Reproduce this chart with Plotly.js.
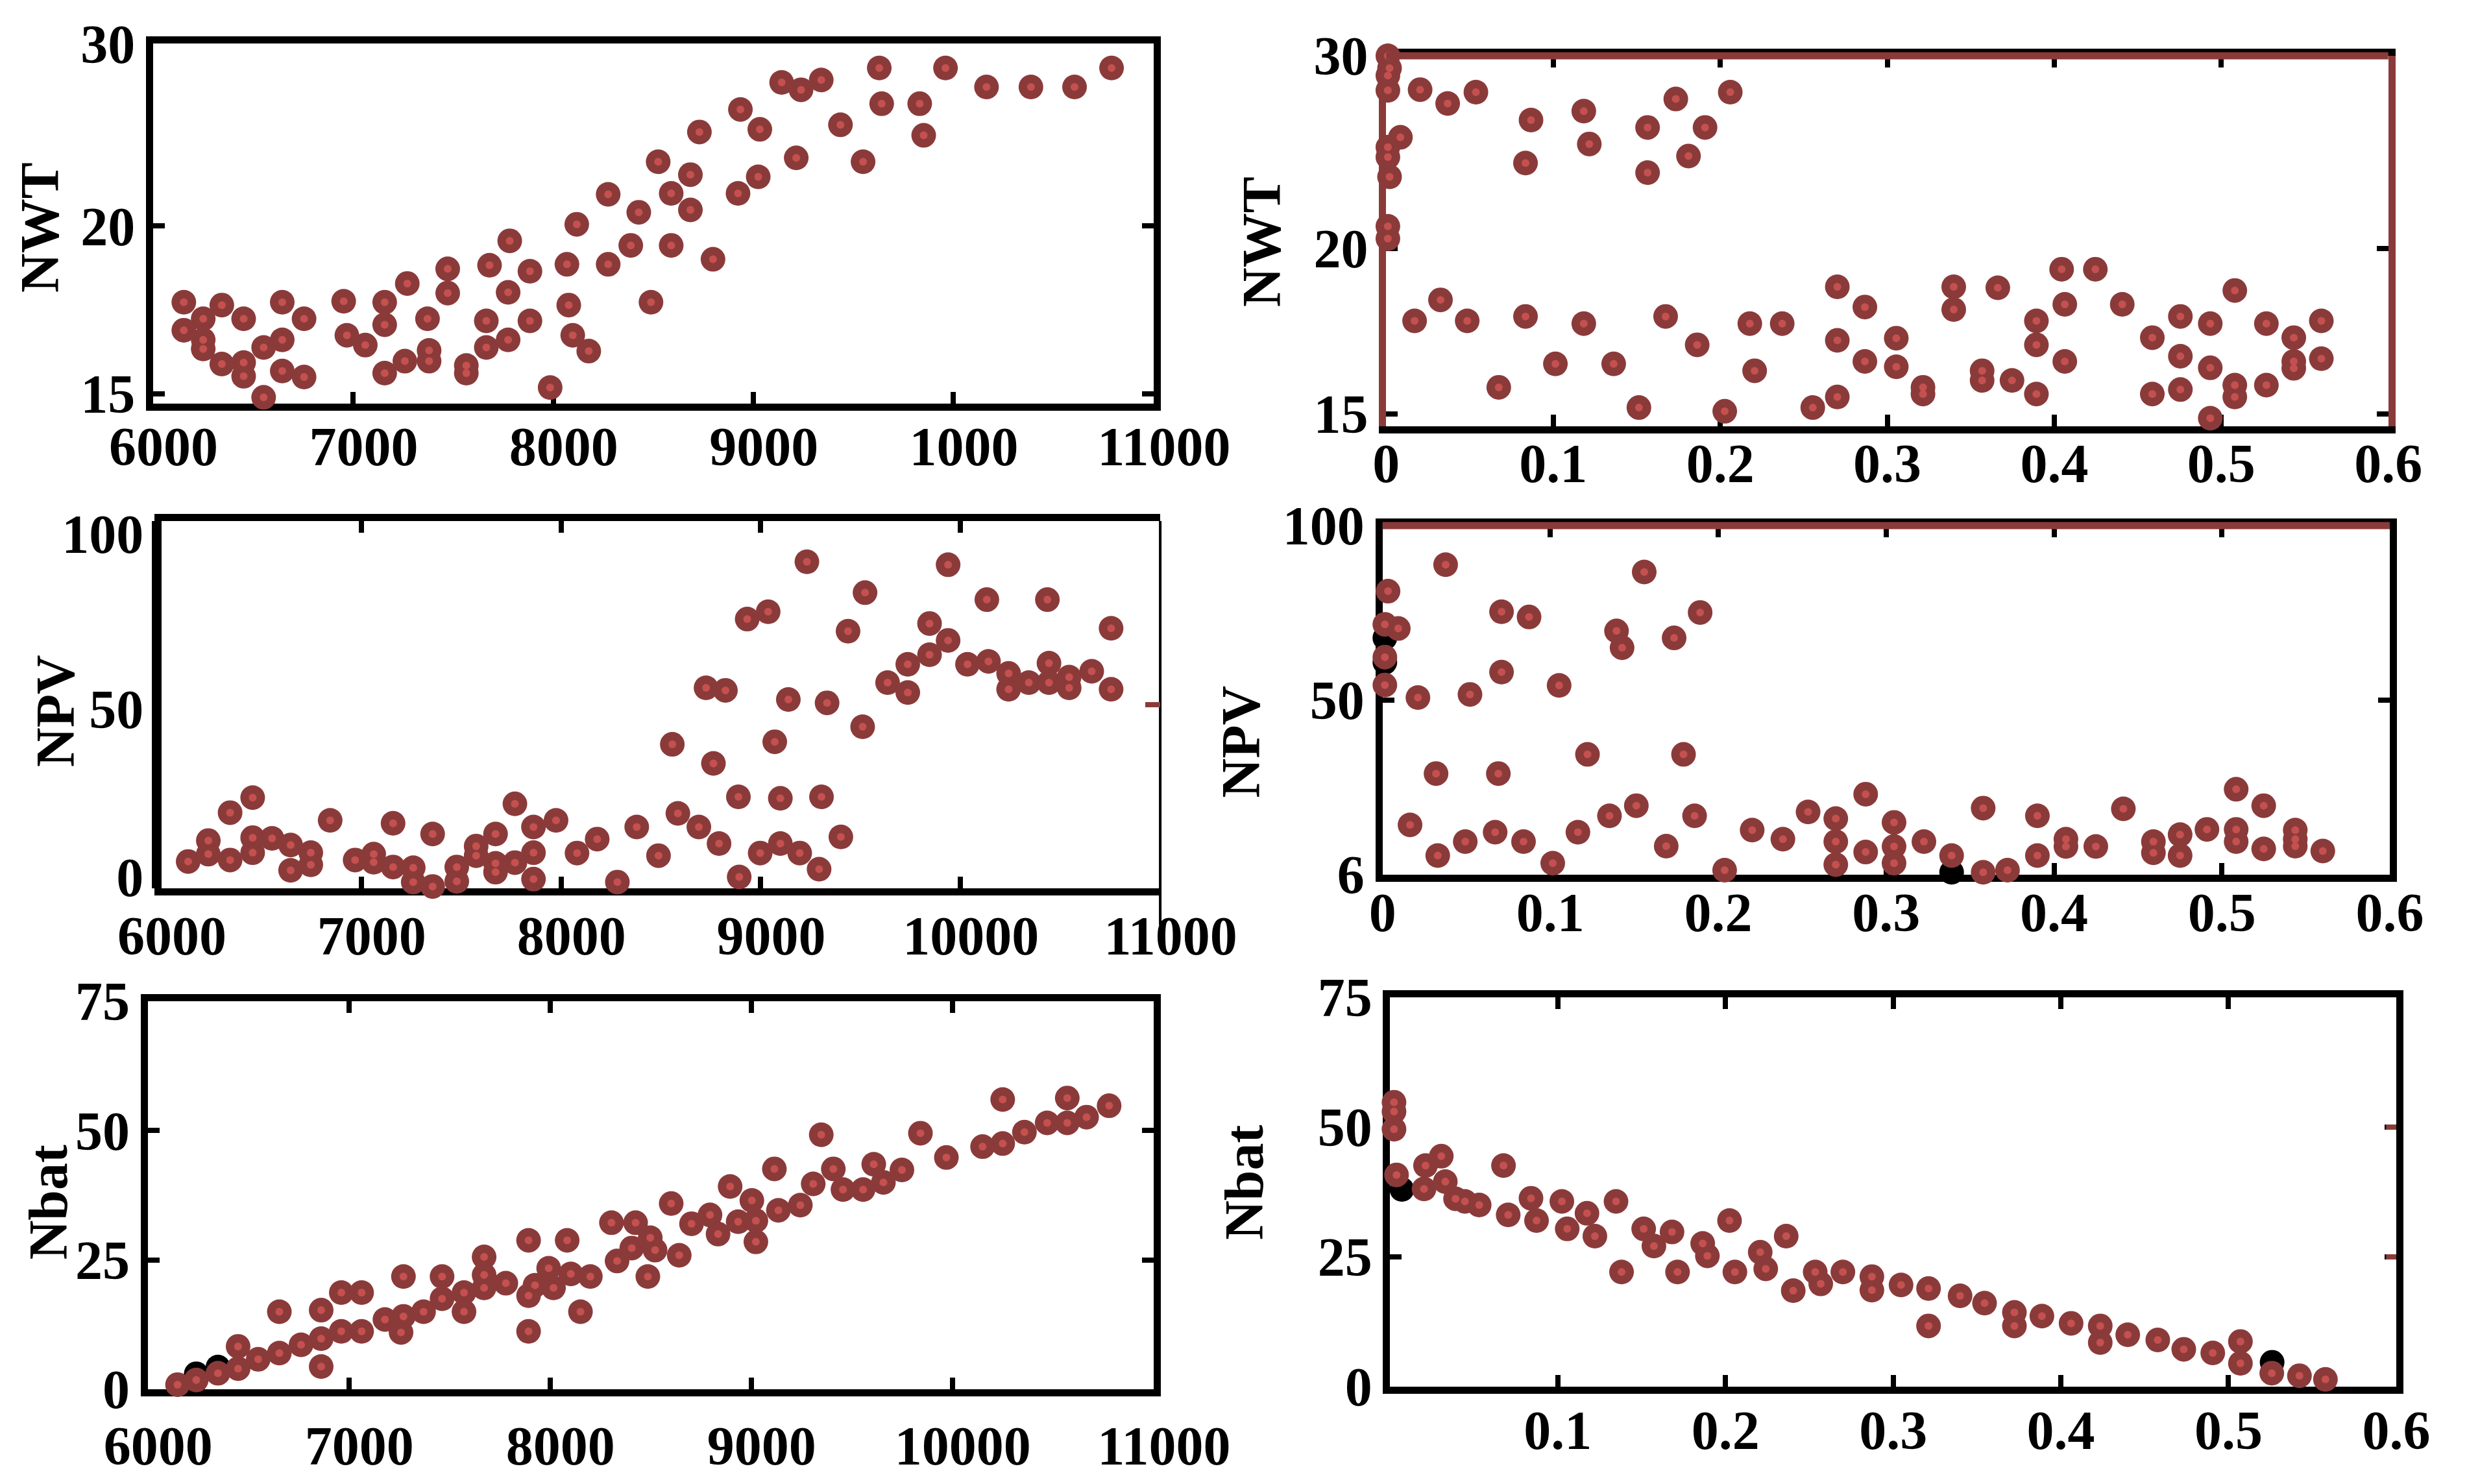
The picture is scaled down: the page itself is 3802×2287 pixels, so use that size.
<!DOCTYPE html>
<html>
<head>
<meta charset="utf-8">
<script src="https://cdn.plot.ly/plotly-3.0.1.min.js"></script>
<style>
  html, body { margin: 0; padding: 0; background: #fff; }
  #chart { width: 3802px; height: 2287px; }
</style>
</head>
<body>
<div id="chart"></div>
<script>
// cost (left column) and LPSP (right column) against NWT, NPV, Nbat

const costNwt = [6153,6153,6250,6250,6250,6343,6343,6452,6452,6452,6552,6552,6645,6645,6645,6754,6754,6952,6968,7060,
  7157,7157,7157,7258,7270,7371,7379,7379,7472,7472,7565,7565,7665,7665,7681,7774,7774,7782,7883,7883,
  7984,8068,8077,8097,8177,8117,8274,8274,8387,8427,8488,8524,8589,8589,8685,8685,8730,8798,8923,8935,
  9024,9032,9214,9141,9238,9339,9435,9548,9629,9641,9831,9851,9960,10165,10387,10605,10790];
const nwtCost = [19.22,18.05,18.53,17.65,17.27,19.10,16.64,18.53,16.70,16.13,17.33,15.25,19.22,17.65,16.35,18.53,16.10,19.26,17.84,17.43,
  19.22,18.28,16.26,16.76,20.0,18.53,17.21,16.76,20.61,19.60,16.58,16.26,18.44,17.33,20.76,19.63,17.65,21.78,20.51,18.44,
  15.66,20.80,19.10,17.84,17.18,22.47,23.72,20.80,21.59,22.97,19.22,25.08,23.76,21.59,24.54,23.07,26.32,21.01,23.76,27.26,
  24.45,26.43,25.24,28.39,28.08,28.49,26.62,25.08,28.99,27.50,27.50,26.18,28.99,28.20,28.20,28.20,28.99];

const lpspNwt = [0.001,0.002,0.001,0.001,0.001,0.001,0.002,0.001,0.001,0.0085,
  0.0203,0.0368,0.0537,0.0867,0.0834,0.1183,0.1216,0.1565,0.1565,0.1734,0.181,0.1909,0.206,
  0.0325,0.017,0.0485,0.0674,0.0834,0.1013,0.1183,0.1362,0.1513,0.1673,0.1862,0.2027,0.2177,0.2206,0.2371,0.2554,
  0.2701,0.2701,0.2701,0.2866,0.2866,0.3054,0.3054,0.3214,0.3214,0.3398,0.3398,0.3568,0.3568,0.3662,0.3747,
  0.3893,0.3893,0.3893,0.4044,0.4063,0.4063,0.4246,0.4407,0.4587,0.4587,0.4755,0.4755,0.4755,0.4934,0.4934,0.4934,
  0.5081,0.5081,0.5081,0.527,0.527,0.5434,0.5434,0.5434,0.5599,0.5599];
const nwtLpsp = [30.0,29.5,29.2,28.6,26.3,25.9,25.1,23.1,22.6,26.7,
  28.63,28.07,28.53,27.40,25.66,27.76,26.43,27.10,25.27,28.25,25.94,27.10,28.53,
  20.12,19.27,19.27,16.58,19.45,17.53,19.16,17.53,15.76,19.45,18.30,15.61,19.16,17.25,19.16,15.76,
  20.65,18.48,16.19,19.83,17.63,18.57,17.41,16.58,16.31,20.65,19.73,17.25,16.86,20.61,16.86,
  19.27,18.30,16.31,21.36,19.94,17.63,21.36,19.94,18.59,16.31,19.45,17.84,16.49,19.16,17.37,15.33,
  20.50,16.67,16.19,19.16,16.67,18.59,17.63,17.35,19.27,17.74];

const costNpv = [6133,6234,6234,6343,6343,6456,6456,6456,6553,6646,6646,6747,6747,6844,6969,7062,7062,7159,7159,7260,
  7260,7357,7357,7478,7478,7575,7575,7672,7672,7672,7769,7769,7862,7862,7862,7975,8080,8181,8282,8379,
  8488,8557,8585,8690,8726,8763,8791,8823,8888,8892,8932,8997,9037,9070,9098,9098,9138,9195,9231,9292,
  9304,9332,9401,9437,9510,9522,9635,9736,9736,9845,9845,9938,9938,10035,10132,10140,10241,10241,10342,10435,
  10443,10443,10544,10544,10657,10754,10754];
const npvCost = [7.3,13.0,9.3,20.6,7.7,24.7,13.8,9.7,13.6,11.8,4.9,9.7,6.4,18.5,7.7,9.3,7.1,17.7,5.8,5.6,
  1.7,14.8,0.5,5.8,1.9,11.5,8.9,14.8,6.8,4.4,23.0,7.0,16.7,9.7,2.5,18.5,9.6,13.4,1.7,16.7,
  8.9,39.2,20.4,16.7,54.6,34.0,12.2,53.9,24.9,3.1,73.3,9.6,75.3,39.9,24.5,12.2,51.4,9.6,88.9,5.2,
  24.9,50.5,14.0,70.0,44.0,80.5,56.0,61.0,53.3,72.1,63.6,88.1,67.5,61.0,78.6,61.8,58.5,54.2,56.0,78.6,
  61.3,56.0,54.6,57.5,59.1,70.8,54.2];

const lpspNpv = [0.0014,0.0033,0.0094,0.0014,0.0014,
  0.0376,0.0211,0.0319,0.0164,0.0329,0.0493,0.0521,0.0671,0.069,0.0709,0.0709,0.084,0.0873,0.1014,0.1052,
  0.1164,0.1221,0.1352,0.1394,0.1427,0.1512,0.1559,0.169,0.1737,0.1793,0.1859,0.1892,0.2038,0.2202,0.2385,
  0.2535,0.27,0.27,0.27,0.2878,0.2878,0.3047,0.3047,0.3047,0.3225,0.339,0.3578,0.3578,0.3723,0.3901,
  0.3901,0.4071,0.4071,0.4249,0.4413,0.4592,0.4592,0.4751,0.4751,0.4911,0.5085,0.5085,0.5085,0.5249,0.5249,
  0.5437,0.5437,0.5437,0.5601];
const npvLpsp = [71.7,81.2,70.5,62.3,54.3,
  88.8,50.7,28.9,14.2,5.4,9.4,51.6,12.1,28.9,75.3,58.0,9.4,73.8,3.2,54.2,
  12.1,34.4,16.8,69.8,65.0,19.7,86.7,8.1,67.8,34.4,16.8,75.1,1.2,12.7,10.1,
  17.9,16.0,9.4,2.8,23.0,6.4,14.9,8.0,3.2,9.4,5.4,19.0,0.6,1.2,16.8,
  5.4,10.1,8.0,8.0,18.8,9.4,6.2,11.4,5.4,12.9,24.4,12.9,9.4,19.7,7.3,
  12.7,10.1,8.1,6.7];
const lpspNpvHidden = [0.0014,0.0014,0.339];
const npvLpspHidden = [67.8,60.8,0.6];

const costNbat = [6148,6241,6349,6449,6449,6549,6654,6654,6762,6862,6862,6862,6962,6962,7063,7063,7179,7259,7271,7271,
  7371,7463,7463,7572,7572,7672,7672,7672,7780,7893,7893,7893,7925,7993,8017,8085,8103,8151,8200,8305,
  8333,8406,8425,8486,8498,8522,8602,8642,8703,8795,8835,8895,8935,9003,9023,9023,9115,9135,9244,9308,
  9348,9408,9456,9556,9609,9657,9749,9841,9970,10150,10250,10250,10358,10471,10571,10571,10667,10779];
const nbatCost = [0.9,1.8,3.1,8.3,4.0,5.8,15.0,7.0,8.6,15.3,9.8,4.4,18.7,11.2,18.7,11.2,13.5,11.0,21.8,14.1,
  15.0,21.8,17.5,18.7,15.0,25.6,22.1,19.6,20.5,28.8,18.1,11.2,20.1,23.4,19.6,28.8,22.3,15.0,21.8,32.2,
  24.8,27.3,32.2,21.8,29.3,26.9,35.9,25.9,32.0,33.7,30.0,39.2,32.4,36.5,32.6,28.5,42.6,34.6,35.6,39.7,
  49.2,42.6,38.6,38.6,43.5,40.0,42.4,49.5,44.8,46.9,47.5,56.0,49.7,51.5,51.5,56.3,52.6,54.8];
const costNbatHidden = [6241,6349];
const nbatCostHidden = [3.0,4.3];

const lpspNbat = [0.0023,0.0023,0.0023,0.0038,0.0202,0.0211,0.0305,0.0329,0.039,0.0446,
  0.0531,0.0676,0.0704,0.084,0.0873,0.1024,0.1056,0.1174,0.1221,0.1347,
  0.138,0.1512,0.1573,0.1681,0.1714,0.1864,0.1892,0.2024,0.2056,0.2207,
  0.224,0.2362,0.2404,0.2535,0.2568,0.27,0.2873,0.2873,0.3047,0.3211,
  0.3211,0.3399,0.3545,0.3723,0.3723,0.3887,0.4061,0.4235,0.4235,0.4399,
  0.4578,0.4733,0.4906,0.5071,0.5071,0.5258,0.5423,0.5578];
const nbatLpsp = [54.8,53.0,49.6,40.8,38.1,42.6,44.4,39.5,36.2,35.7,
  35.0,42.6,33.1,36.3,32.0,35.7,30.4,33.4,29.0,35.7,
  22.1,30.4,27.1,29.8,22.1,27.6,25.2,32.0,22.1,25.9,
  22.7,29.0,18.5,22.1,19.8,22.1,21.2,18.6,19.6,18.9,
  11.7,17.5,16.1,14.3,11.7,13.6,12.2,11.7,8.5,10.0,
  9.0,7.2,6.5,8.7,4.5,2.6,2.1,1.4];
const lpspNbatHidden = [0.007,0.526];
const nbatLpspHidden = [38.0,4.7];

const costTicks = [6000,7000,8000,9000,10000,11000];
const costTickText = ['6000','7000','8000','9000','1000','11000'];
const costTickText2 = ['6000','7000','8000','9000','10000','11000'];
const lpspTicks = [0,0.1,0.2,0.3,0.4,0.5,0.6];
const lpspTickText = ['0','0.1','0.2','0.3','0.4','0.5','0.6'];
const nwtTickText = ['15','20','30'];
const npvTickText = ['0','50','100'];
const npvTickText2 = ['6','50','100'];
const nbatTicks = [0,25,50,75];
const nbatTickText = ['0','25','50','75'];

const brown = '#8B3A3A';
const core = '#C4514F';
const serif = 'Times New Roman, Liberation Serif, serif';

function dots(x, y, n) {
  const xa = 'x' + (n === 1 ? '' : n), ya = 'y' + (n === 1 ? '' : n);
  return [
    {x: x, y: y, xaxis: xa, yaxis: ya, type: 'scatter', mode: 'markers', cliponaxis: false,
     hoverinfo: 'skip', marker: {size: 38, color: brown}},
    {x: x, y: y, xaxis: xa, yaxis: ya, type: 'scatter', mode: 'markers', cliponaxis: false,
     hoverinfo: 'skip', marker: {size: 12, color: core}}
  ];
}
function hidden(x, y, n) {
  return {x: x, y: y, xaxis: 'x' + n, yaxis: 'y' + n, type: 'scatter', mode: 'markers',
    cliponaxis: false, hoverinfo: 'skip', marker: {size: 38, color: '#000'}};
}

const data = [].concat(
  dots(costNwt, nwtCost, 1),
  dots(lpspNwt, nwtLpsp, 2),
  dots(costNpv, npvCost, 3),
  [hidden(lpspNpvHidden, npvLpspHidden, 4)],
  dots(lpspNpv, npvLpsp, 4),
  [hidden(costNbatHidden, nbatCostHidden, 5)],
  dots(costNbat, nbatCost, 5),
  [hidden(lpspNbatHidden, nbatLpspHidden, 6)],
  dots(lpspNbat, nbatLpsp, 6)
);

const tickFont = {family: serif, size: 84, color: '#000', weight: 'bold'};

function ax(domain, range, vals, text, extra) {
  return Object.assign({
    domain: domain, range: range, tickmode: 'array', tickvals: vals, ticktext: text,
    showgrid: false, zeroline: false, showline: true, linecolor: '#000', linewidth: 11,
    ticks: 'inside', ticklen: 18, tickwidth: 8, tickcolor: '#000', mirror: 'ticks',
    tickfont: tickFont, layer: 'below traces', fixedrange: true
  }, extra || {});
}

const layout = {
  width: 3802, height: 2287,
  margin: {l: 0, r: 0, t: 0, b: 0},
  paper_bgcolor: '#fff', plot_bgcolor: '#fff',
  showlegend: false,
  xaxis:  ax([0.0621, 0.4676], [6000, 11000], costTicks, costTickText, {anchor: 'y', mirror: true, ticklabelstandoff: -16, ticklabelshift: 16}),
  yaxis:  ax([0.7282, 0.9705], [15, 30], [15.4, 22.4, 30], nwtTickText, {anchor: 'x'}),
  xaxis2: ax([0.5619, 0.9681], [0, 0.6], lpspTicks, lpspTickText, {anchor: 'y2', ticklabelstandoff: -26}),
  yaxis2: ax([0.7127, 0.9624], [15, 30], [15.5, 22.2, 30], nwtTickText, {anchor: 'x2', linecolor: brown}),
  xaxis3: ax([0.0655, 0.4703], [6000, 11000], costTicks, costTickText2, {anchor: 'y3', ticklabelstandoff: -10, ticklabelshift: 16}),
  yaxis3: ax([0.4014, 0.6489], [0, 100], [3.1, 48.8, 96.5], npvTickText, {anchor: 'x3', mirror: false, ticks: ''}),
  xaxis4: ax([0.5604, 0.9687], [0, 0.6], lpspTicks, lpspTickText, {anchor: 'y4', ticklabelstandoff: -24}),
  yaxis4: ax([0.4108, 0.6458], [0, 100], [0, 50, 100], npvTickText2, {anchor: 'x4'}),
  xaxis5: ax([0.0599, 0.4676], [6000, 11000], costTicks, costTickText2, {anchor: 'y5', ticklabelstandoff: 4, ticklabelshift: 16}),
  yaxis5: ax([0.0638, 0.3253], [0, 75], nbatTicks, nbatTickText, {anchor: 'x5'}),
  xaxis6: ax([0.5635, 0.9713], [0, 0.6], lpspTicks.slice(1), lpspTickText.slice(1), {anchor: 'y6', ticklabelstandoff: -16}),
  yaxis6: ax([0.0656, 0.3279], [0, 75], nbatTicks, nbatTickText, {anchor: 'x6'}),
  shapes: [
    {type: 'line', xref: 'x2 domain', yref: 'y2 domain', x0: 0, x1: 1, y0: 1, y1: 1,
     line: {color: brown, width: 11}, layer: 'above'},
    {type: 'line', xref: 'x4 domain', yref: 'y4 domain', x0: 0, x1: 1, y0: 1, y1: 1,
     line: {color: brown, width: 11}, layer: 'above'},
    {type: 'line', xref: 'x3 domain', yref: 'y3 domain', x0: 1, x1: 1, y0: -0.1, y1: 1,
     line: {color: '#000', width: 4}, layer: 'below'},
    {type: 'line', xref: 'paper', yref: 'paper', x0: 0.0622, x1: 0.0622, y0: 0.4014, y1: 0.6489,
     line: {color: '#000', width: 5}, layer: 'above'},
    {type: 'line', xref: 'x3 domain', yref: 'y3', x0: 0.985, x1: 1, y0: 50, y1: 50,
     line: {color: brown, width: 8}, layer: 'below'},
    {type: 'line', xref: 'x6 domain', yref: 'y6', x0: 0.99, x1: 1, y0: 50, y1: 50,
     line: {color: brown, width: 8}, layer: 'above'},
    {type: 'line', xref: 'x6 domain', yref: 'y6', x0: 0.99, x1: 1, y0: 25, y1: 25,
     line: {color: brown, width: 8}, layer: 'above'}
  ],
  annotations: [
    ['NWT', 0.0163, 0.847], ['NWT', 0.5116, 0.837],
    ['NPV', 0.0225, 0.521], ['NPV', 0.5029, 0.500],
    ['Nbat', 0.0197, 0.190], ['Nbat', 0.5045, 0.203]
  ].map(function (a) {
    return {text: a[0], x: a[1], y: a[2], xref: 'paper', yref: 'paper', showarrow: false,
      textangle: -90, xanchor: 'center', yanchor: 'middle',
      font: {family: serif, size: 84, color: '#000', weight: 'bold'}};
  })
};

Plotly.newPlot('chart', data, layout, {staticPlot: true});
</script>
</body>
</html>
